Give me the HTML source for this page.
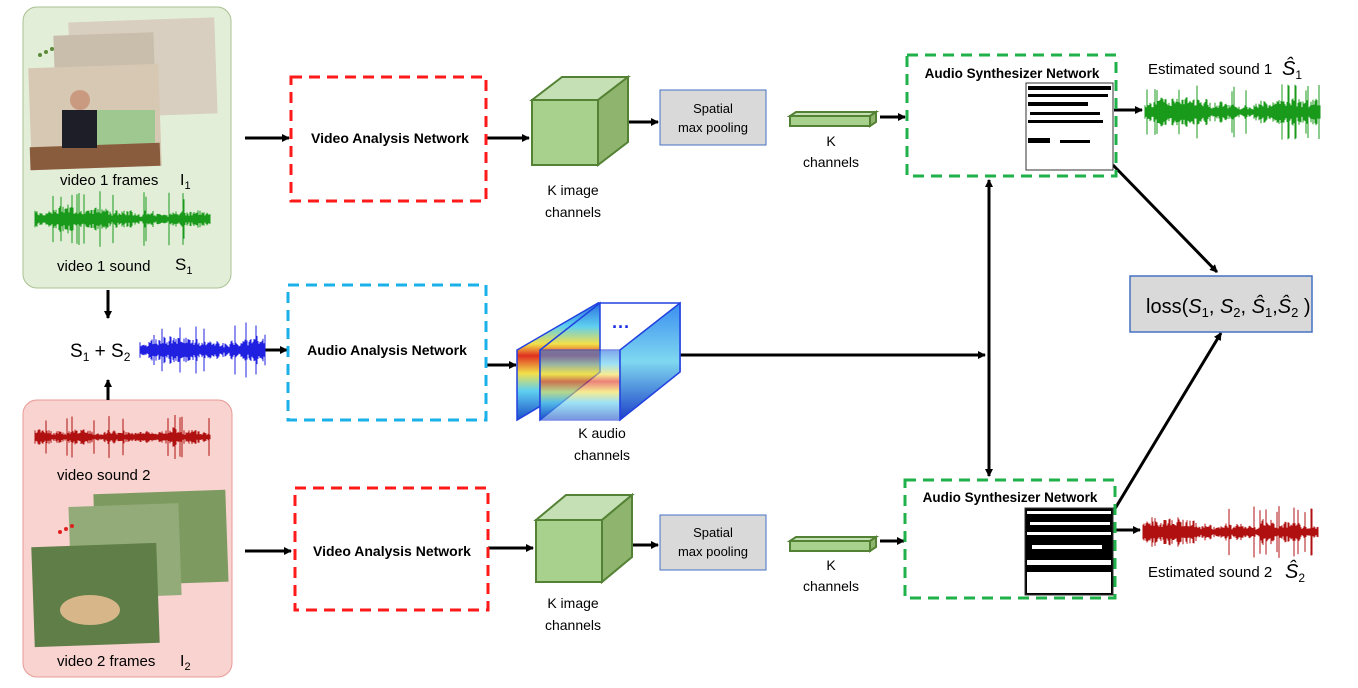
<!DOCTYPE html>
<html><head><meta charset="utf-8"><style>
body{margin:0;background:#fff;width:1358px;height:683px;overflow:hidden}
svg text{font-family:"Liberation Sans",sans-serif}
</style></head><body>
<svg id="s" width="1358" height="683" viewBox="0 0 1358 683" xmlns="http://www.w3.org/2000/svg">
<defs>
<marker id="a" markerWidth="8" markerHeight="8" refX="7" refY="4" orient="auto" markerUnits="userSpaceOnUse"><path d="M0,0 L8,4 L0,8 z" fill="#000"/></marker>
<marker id="b" markerWidth="8" markerHeight="8" refX="1" refY="4" orient="auto" markerUnits="userSpaceOnUse"><path d="M8,0 L0,4 L8,8 z" fill="#000"/></marker>
<linearGradient id="sp" x1="0" y1="0" x2="0" y2="1"><stop offset="0" stop-color="#2a6ee0"/><stop offset="0.2" stop-color="#5fd0f0"/><stop offset="0.35" stop-color="#f2e04a"/><stop offset="0.45" stop-color="#e03020"/><stop offset="0.6" stop-color="#f2e04a"/><stop offset="0.75" stop-color="#5fd0f0"/><stop offset="1" stop-color="#1c4fc8"/></linearGradient>
<linearGradient id="sp2" x1="0" y1="0" x2="0" y2="1"><stop offset="0" stop-color="#3a8ef0"/><stop offset="0.5" stop-color="#7fd8f0"/><stop offset="1" stop-color="#1c3fc8"/></linearGradient>
</defs>
<rect x="23" y="7" width="208" height="281" rx="14" fill="#e3eed9" stroke="#a8c292"/>
<rect x="70" y="20" width="146" height="96" fill="#d8cfc0" transform="rotate(-2 140 70)"/>
<rect x="55" y="34" width="100" height="98" fill="#c9bdac" transform="rotate(-2 105 82)"/>
<rect x="30" y="66" width="130" height="102" fill="#d6c8b2" transform="rotate(-2 95 117)"/>
<rect x="95" y="110" width="60" height="35" fill="#9fc890"/>
<rect x="30" y="145" width="130" height="23" fill="#8a5c3e" transform="rotate(-2 95 154)"/>
<rect x="62" y="110" width="35" height="38" fill="#1e1e28"/>
<circle cx="80" cy="100" r="10" fill="#c99a80"/>
<circle cx="40" cy="55" r="2" fill="#5a8a3a"/><circle cx="46" cy="52" r="2" fill="#5a8a3a"/><circle cx="52" cy="49" r="2" fill="#5a8a3a"/>
<text x="60" y="185" font-size="15">video 1 frames</text><text x="180" y="185" font-size="16" font-family="Liberation Serif">I<tspan font-size="11" dy="4">1</tspan></text>
<text x="57" y="271" font-size="15">video 1 sound</text><text x="175" y="270" font-size="17" font-family="Liberation Serif">S<tspan font-size="11" dy="4">1</tspan></text>
<rect x="23" y="400" width="209" height="277" rx="14" fill="#f8d3d0" stroke="#e89a96"/>
<text x="57" y="480" font-size="15">video sound 2</text>
<rect x="95" y="492" width="132" height="92" fill="#7d9a60" transform="rotate(-2 160 540)"/>
<rect x="70" y="505" width="110" height="92" fill="#93ab78" transform="rotate(-2 125 550)"/>
<rect x="33" y="545" width="125" height="100" fill="#5f7e48" transform="rotate(-2 95 595)"/>
<ellipse cx="90" cy="610" rx="30" ry="15" fill="#d7b78a"/>
<circle cx="60" cy="532" r="2" fill="#e02020"/><circle cx="66" cy="529" r="2" fill="#e02020"/><circle cx="72" cy="526" r="2" fill="#e02020"/>
<text x="57" y="666" font-size="15">video 2 frames</text><text x="180" y="666" font-size="16" font-family="Liberation Serif">I<tspan font-size="11" dy="4">2</tspan></text>
<text x="70" y="357" font-size="19" font-family="Liberation Serif">S<tspan font-size="12" dy="4">1</tspan><tspan dy="-4"> + S</tspan><tspan font-size="12" dy="4">2</tspan></text>
<g stroke="#000" stroke-width="3" fill="none">
<line x1="108" y1="290" x2="108" y2="318" marker-end="url(#a)"/>
<line x1="108" y1="400" x2="108" y2="380" marker-end="url(#a)"/>
<line x1="265" y1="350" x2="287" y2="350" marker-end="url(#a)"/>
<line x1="245" y1="138" x2="289" y2="138" marker-end="url(#a)"/>
<line x1="486" y1="138" x2="529" y2="138" marker-end="url(#a)"/>
<line x1="615" y1="122" x2="658" y2="122" marker-end="url(#a)"/>
<line x1="880" y1="117" x2="905" y2="117" marker-end="url(#a)"/>
<line x1="1114" y1="110" x2="1142" y2="110" marker-end="url(#a)"/>
<line x1="1113" y1="165" x2="1217" y2="272" marker-end="url(#a)"/>
<line x1="989" y1="180" x2="989" y2="476" marker-end="url(#a)" marker-start="url(#b)"/>
<line x1="486" y1="365" x2="516" y2="365" marker-end="url(#a)"/>
<line x1="668" y1="355" x2="985" y2="355" marker-end="url(#a)"/>
<line x1="245" y1="551" x2="291" y2="551" marker-end="url(#a)"/>
<line x1="488" y1="548" x2="533" y2="548" marker-end="url(#a)"/>
<line x1="615" y1="545" x2="658" y2="545" marker-end="url(#a)"/>
<line x1="880" y1="541" x2="904" y2="541" marker-end="url(#a)"/>
<line x1="1115" y1="530" x2="1140" y2="530" marker-end="url(#a)"/>
<line x1="1113" y1="512" x2="1221" y2="333" marker-end="url(#a)"/>
</g>
<g fill="none" stroke-width="3" stroke-dasharray="11,7">
<rect x="291" y="77" width="195" height="124" stroke="#ff1a1a"/>
<rect x="288" y="285" width="198" height="135" stroke="#1ab0e8"/>
<rect x="295" y="488" width="193" height="122" stroke="#ff1a1a"/>
<rect x="907" y="55" width="209" height="121" stroke="#1fb24a"/>
<rect x="905" y="480" width="210" height="118" stroke="#1fb24a"/>
</g>
<g font-weight="bold" font-size="14" text-anchor="middle">
<text x="390" y="143">Video Analysis Network</text>
<text x="387" y="355">Audio Analysis Network</text>
<text x="392" y="556">Video Analysis Network</text>
<text x="1012" y="78" font-size="13.5">Audio Synthesizer Network</text>
<text x="1010" y="502" font-size="13.5">Audio Synthesizer Network</text>
</g>
<g stroke="#548235" stroke-width="2">
<path d="M532,100 L562,77 L628,77 L598,100z" fill="#c5e0b4"/>
<path d="M598,100 L628,77 L628,142 L598,165z" fill="#8fb46e"/>
<rect x="532" y="100" width="66" height="65" fill="#a9d18e"/>
<path d="M536,520 L566,495 L632,495 L602,520z" fill="#c5e0b4"/>
<path d="M602,520 L632,495 L632,557 L602,582z" fill="#8fb46e"/>
<rect x="536" y="520" width="66" height="62" fill="#a9d18e"/>
<path d="M790,116 L796,112 L876,112 L870,116z" fill="#c5e0b4"/>
<path d="M870,116 L876,112 L876,122 L870,126z" fill="#8fb46e"/>
<rect x="790" y="116" width="80" height="10" fill="#a9d18e"/>
<path d="M790,541 L796,537 L876,537 L870,541z" fill="#c5e0b4"/>
<path d="M870,541 L876,537 L876,547 L870,551z" fill="#8fb46e"/>
<rect x="790" y="541" width="80" height="10" fill="#a9d18e"/>
</g>
<g font-size="14" text-anchor="middle">
<text x="573" y="195">K image</text><text x="573" y="217">channels</text>
<text x="573" y="608">K image</text><text x="573" y="630">channels</text>
<text x="831" y="146">K</text><text x="831" y="167">channels</text>
<text x="831" y="570">K</text><text x="831" y="591">channels</text>
<text x="602" y="438">K audio</text><text x="602" y="460">channels</text>
</g>
<rect x="660" y="90" width="106" height="55" fill="#d9d9d9" stroke="#4472c4"/>
<rect x="660" y="515" width="106" height="55" fill="#d9d9d9" stroke="#4472c4"/>
<g font-size="13" text-anchor="middle">
<text x="713" y="113">Spatial</text><text x="713" y="132">max pooling</text>
<text x="713" y="537">Spatial</text><text x="713" y="556">max pooling</text>
</g>
<g stroke="#2040e0" stroke-width="1.5">
<path d="M517,420 L517,350 L598,303 L598,372z" fill="url(#sp)"/>
<path d="M540,420 L540,350 L600,303 L600,372z" fill="url(#sp)"/>
<path d="M540,420 L540,350 L620,350 L620,420z" fill="url(#sp)" opacity="0.6"/>
<path d="M598,303 L680,303 L680,372" fill="none"/>
<path d="M620,420 L620,350 L680,303 L680,372z" fill="url(#sp2)"/>
</g>
<text x="612" y="333" font-size="18" font-weight="bold" fill="#1a2ee0">···</text>
<rect x="1026" y="83" width="87" height="87" fill="#fff" stroke="#333"/>
<g fill="#000"><rect x="1028" y="86" width="83" height="4"/><rect x="1028" y="94" width="80" height="3"/><rect x="1028" y="102" width="60" height="4"/><rect x="1030" y="112" width="70" height="3"/><rect x="1028" y="120" width="75" height="3"/><rect x="1028" y="138" width="22" height="5"/><rect x="1060" y="140" width="30" height="3"/></g>
<rect x="1025" y="508" width="88" height="87" fill="#000" stroke="#333"/>
<g fill="#fff"><rect x="1027" y="511" width="84" height="3"/><rect x="1030" y="522" width="80" height="3"/><rect x="1027" y="532" width="84" height="3"/><rect x="1032" y="545" width="70" height="4"/><rect x="1027" y="560" width="84" height="5"/><rect x="1027" y="572" width="84" height="21"/></g>
<text x="1148" y="74" font-size="15">Estimated sound 1</text>
<text x="1282" y="75" font-size="20" font-style="italic" font-family="Liberation Serif">Ŝ<tspan font-size="12" dy="4" font-style="normal">1</tspan></text>
<text x="1148" y="577" font-size="15">Estimated sound 2</text>
<text x="1285" y="578" font-size="20" font-style="italic" font-family="Liberation Serif">Ŝ<tspan font-size="12" dy="4" font-style="normal">2</tspan></text>
<rect x="1130" y="276" width="182" height="56" fill="#d9d9d9" stroke="#4472c4" stroke-width="1.5"/>
<text x="1146" y="313" font-size="20">loss(<tspan font-style="italic">S</tspan><tspan font-size="13" dy="4">1</tspan><tspan dy="-4">, </tspan><tspan font-style="italic">S</tspan><tspan font-size="13" dy="4">2</tspan><tspan dy="-4">, </tspan><tspan font-style="italic">Ŝ</tspan><tspan font-size="13" dy="4">1</tspan><tspan dy="-4">,</tspan><tspan font-style="italic">Ŝ</tspan><tspan font-size="13" dy="4">2</tspan><tspan dy="-4"> )</tspan></text>
<g id="waves"></g>
</svg>
<script>
(function(){
var g=document.getElementById('waves');var seed=7;function r(){seed=(seed*9301+49297)%233280;return seed/233280;}
function wave(x0,x1,cy,amp,col){var d='';var env=0.4;for(var x=x0;x<=x1;x+=1){env+= (r()-0.5)*0.15;env=Math.max(0.2,Math.min(0.55,env));var a=amp*env*(0.4+0.6*r());if(r()<0.05)a=amp*(0.7+0.3*r());d+='M'+x+','+(cy-a).toFixed(1)+'V'+(cy+a).toFixed(1);}
var p=document.createElementNS('http://www.w3.org/2000/svg','path');p.setAttribute('d',d);p.setAttribute('stroke',col);p.setAttribute('stroke-width','1');g.appendChild(p);}
wave(35,210,219,28,'#1a9a1a');wave(140,265,350,28,'#2020e0');wave(35,210,437,22,'#b01010');
wave(1145,1320,112,28,'#1a9a1a');wave(1143,1318,532,27,'#b01010');
})();
</script>
</body></html>
